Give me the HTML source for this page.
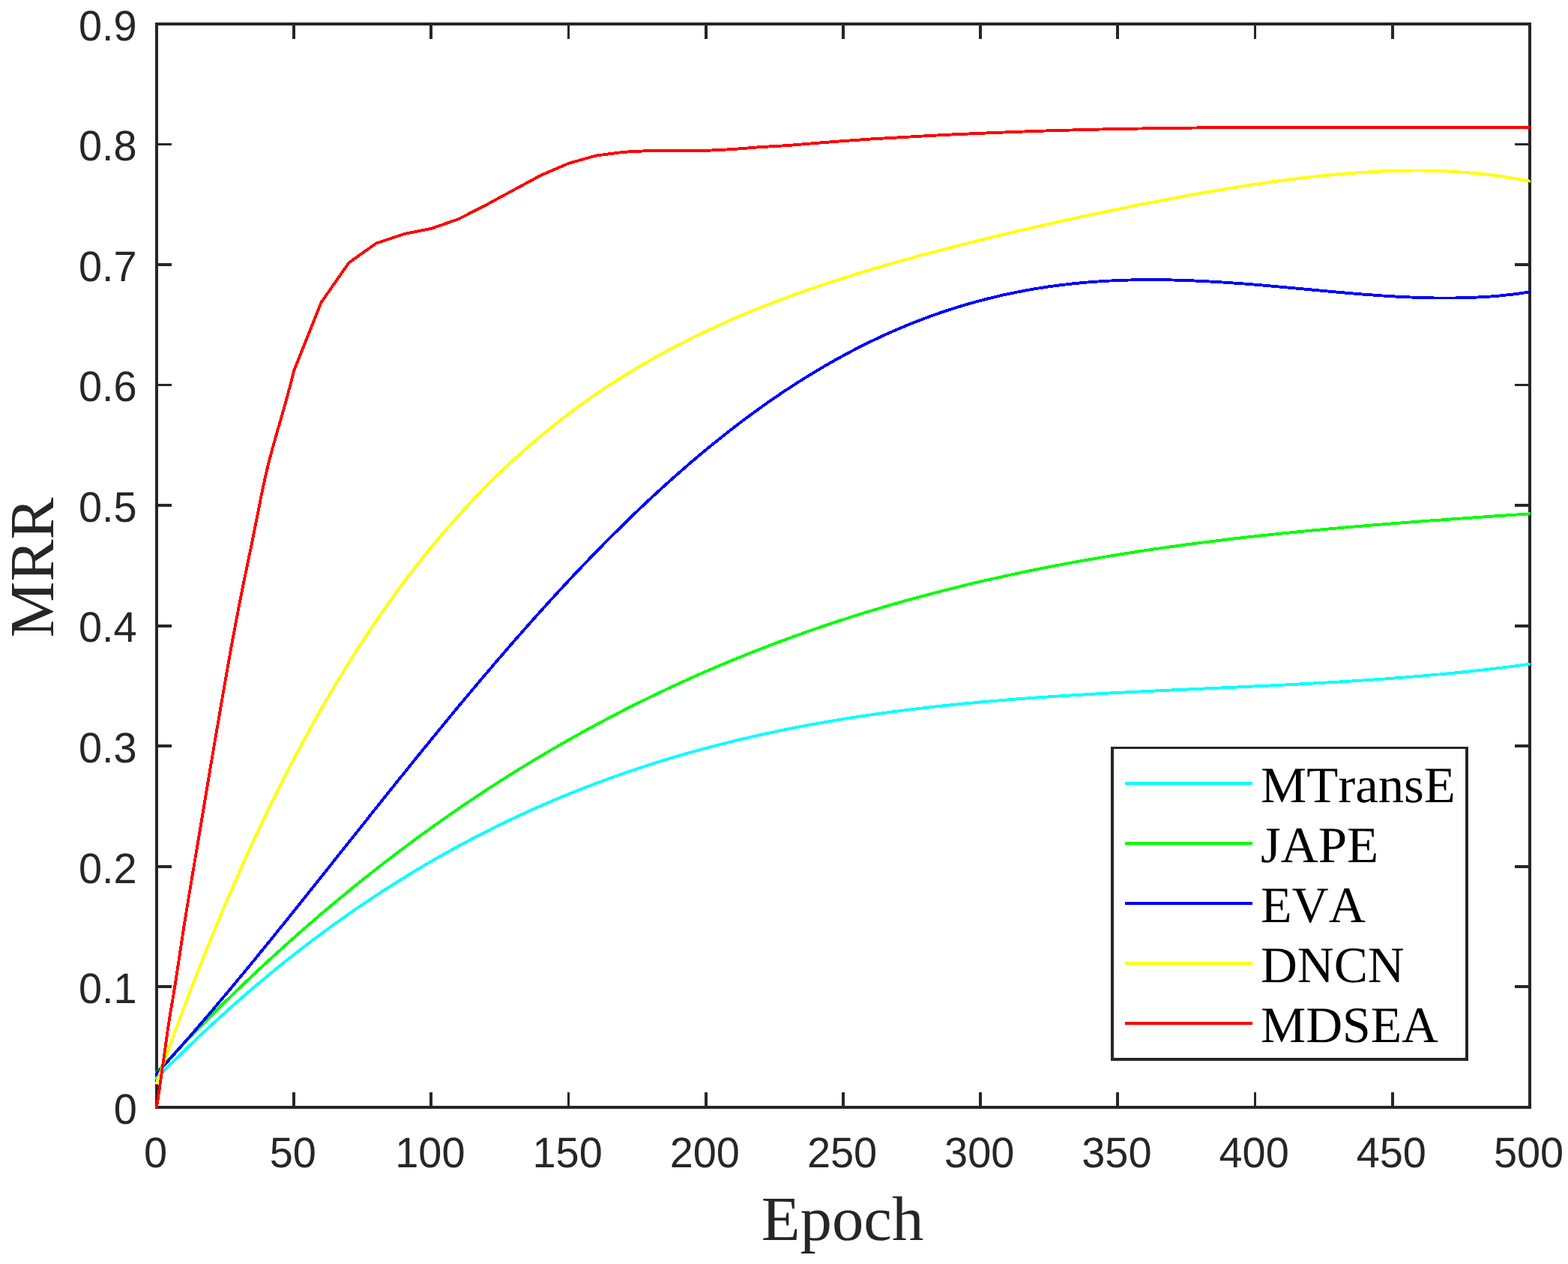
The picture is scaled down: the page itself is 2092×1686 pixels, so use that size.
<!DOCTYPE html>
<html lang="en"><head><meta charset="utf-8"><title>MRR vs Epoch</title>
<style>html,body{margin:0;padding:0;background:#fff}body{width:2092px;height:1686px;overflow:hidden}svg{display:block}
.t{font-family:"Liberation Sans",sans-serif;font-size:57px;fill:#262626}
.l{font-family:"Liberation Serif",serif;font-size:84px;fill:#262626}
.g{font-family:"Liberation Serif",serif;font-size:68px;fill:#000}
text{font-kerning:none;text-rendering:geometricPrecision}
.c{fill:none;stroke-width:3.9;stroke-linejoin:round;stroke-linecap:square}
</style></head><body>
<svg width="2092" height="1686" viewBox="0 0 2092 1686">
<rect x="0" y="0" width="2092" height="1686" fill="#ffffff"/>
<defs><clipPath id="cp"><rect x="207" y="30" width="1835" height="1448"/></clipPath></defs>
<g shape-rendering="crispEdges" fill="#262626">
<rect x="207" y="30" width="1836" height="4"/>
<rect x="207" y="1475" width="1836" height="4"/>
<rect x="207" y="30" width="4" height="1449"/>
<rect x="2039" y="30" width="4" height="1449"/>
<rect x="390" y="1457" width="4" height="18"/>
<rect x="390" y="34" width="4" height="18"/>
<rect x="573" y="1457" width="4" height="18"/>
<rect x="573" y="34" width="4" height="18"/>
<rect x="757" y="1457" width="3" height="18"/>
<rect x="757" y="34" width="3" height="18"/>
<rect x="940" y="1457" width="4" height="18"/>
<rect x="940" y="34" width="4" height="18"/>
<rect x="1123" y="1457" width="4" height="18"/>
<rect x="1123" y="34" width="4" height="18"/>
<rect x="1306" y="1457" width="4" height="18"/>
<rect x="1306" y="34" width="4" height="18"/>
<rect x="1489" y="1457" width="4" height="18"/>
<rect x="1489" y="34" width="4" height="18"/>
<rect x="1673" y="1457" width="3" height="18"/>
<rect x="1673" y="34" width="3" height="18"/>
<rect x="1856" y="1457" width="4" height="18"/>
<rect x="1856" y="34" width="4" height="18"/>
<rect x="211" y="1314" width="18" height="4"/>
<rect x="2021" y="1314" width="18" height="4"/>
<rect x="211" y="1154" width="18" height="4"/>
<rect x="2021" y="1154" width="18" height="4"/>
<rect x="211" y="993" width="18" height="4"/>
<rect x="2021" y="993" width="18" height="4"/>
<rect x="211" y="833" width="18" height="4"/>
<rect x="2021" y="833" width="18" height="4"/>
<rect x="211" y="672" width="18" height="4"/>
<rect x="2021" y="672" width="18" height="4"/>
<rect x="211" y="512" width="18" height="3"/>
<rect x="2021" y="512" width="18" height="3"/>
<rect x="211" y="351" width="18" height="4"/>
<rect x="2021" y="351" width="18" height="4"/>
<rect x="211" y="191" width="18" height="3"/>
<rect x="2021" y="191" width="18" height="3"/>
</g>
<g class="t" text-anchor="end">
<text transform="translate(182.7 1498.6) scale(0.98 1)">0</text>
<text transform="translate(182.7 1338.0) scale(0.98 1)">0.1</text>
<text transform="translate(182.7 1177.5) scale(0.98 1)">0.2</text>
<text transform="translate(182.7 1016.9) scale(0.98 1)">0.3</text>
<text transform="translate(182.7 856.4) scale(0.98 1)">0.4</text>
<text transform="translate(182.7 695.8) scale(0.98 1)">0.5</text>
<text transform="translate(182.7 535.3) scale(0.98 1)">0.6</text>
<text transform="translate(182.7 374.7) scale(0.98 1)">0.7</text>
<text transform="translate(182.7 214.2) scale(0.98 1)">0.8</text>
<text transform="translate(182.7 53.6) scale(0.98 1)">0.9</text>
</g>
<g class="t" text-anchor="middle">
<text transform="translate(207.5 1556.5) scale(0.98 1)">0</text>
<text transform="translate(390.7 1556.5) scale(0.98 1)">50</text>
<text transform="translate(573.9 1556.5) scale(0.98 1)">100</text>
<text transform="translate(757.1 1556.5) scale(0.98 1)">150</text>
<text transform="translate(940.3 1556.5) scale(0.98 1)">200</text>
<text transform="translate(1123.5 1556.5) scale(0.98 1)">250</text>
<text transform="translate(1306.7 1556.5) scale(0.98 1)">300</text>
<text transform="translate(1489.9 1556.5) scale(0.98 1)">350</text>
<text transform="translate(1673.1 1556.5) scale(0.98 1)">400</text>
<text transform="translate(1856.3 1556.5) scale(0.98 1)">450</text>
<text transform="translate(2039.5 1556.5) scale(0.98 1)">500</text>
</g>
<text class="l" text-anchor="middle" transform="translate(1124.0 1654.0) scale(1.009 1)">Epoch</text>
<text class="l" text-anchor="middle" transform="translate(71.0 757.0) rotate(-90)">MRR</text>
<g clip-path="url(#cp)" shape-rendering="crispEdges">
<polyline class="c" stroke="#00ffff" points="209.0,1438.4 216.3,1430.9 223.7,1423.5 231.0,1416.2 238.3,1409.0 245.6,1401.8 253.0,1394.7 260.3,1387.7 267.6,1380.7 275.0,1373.9 282.3,1367.1 289.6,1360.3 296.9,1353.7 304.3,1347.1 311.6,1340.5 318.9,1334.1 326.2,1327.7 333.6,1321.4 340.9,1315.1 348.2,1309.0 355.6,1302.9 362.9,1296.8 370.2,1290.8 377.5,1284.9 384.9,1279.1 392.2,1273.3 399.5,1267.6 406.9,1261.9 414.2,1256.3 421.5,1250.8 428.8,1245.4 436.2,1240.0 443.5,1234.6 450.8,1229.4 458.2,1224.2 465.5,1219.0 472.8,1213.9 480.1,1208.9 487.5,1203.9 494.8,1199.0 502.1,1194.2 509.4,1189.4 516.8,1184.7 524.1,1180.0 531.4,1175.4 538.8,1170.9 546.1,1166.4 553.4,1161.9 560.7,1157.6 568.1,1153.2 575.4,1149.0 582.7,1144.7 590.1,1140.6 597.4,1136.5 604.7,1132.4 612.0,1128.4 619.4,1124.5 626.7,1120.6 634.0,1116.8 641.4,1113.0 648.7,1109.3 656.0,1105.6 663.3,1101.9 670.7,1098.4 678.0,1094.8 685.3,1091.4 692.6,1087.9 700.0,1084.6 707.3,1081.2 714.6,1077.9 722.0,1074.7 729.3,1071.5 736.6,1068.4 743.9,1065.3 751.3,1062.2 758.6,1059.2 765.9,1056.3 773.3,1053.4 780.6,1050.5 787.9,1047.7 795.2,1044.9 802.6,1042.2 809.9,1039.5 817.2,1036.8 824.6,1034.2 831.9,1031.7 839.2,1029.1 846.5,1026.7 853.9,1024.2 861.2,1021.8 868.5,1019.5 875.8,1017.1 883.2,1014.9 890.5,1012.6 897.8,1010.4 905.2,1008.3 912.5,1006.1 919.8,1004.0 927.1,1002.0 934.5,1000.0 941.8,998.0 949.1,996.1 956.5,994.1 963.8,992.3 971.1,990.4 978.4,988.6 985.8,986.9 993.1,985.1 1000.4,983.4 1007.8,981.7 1015.1,980.1 1022.4,978.5 1029.7,976.9 1037.1,975.4 1044.4,973.9 1051.7,972.4 1059.0,970.9 1066.4,969.5 1073.7,968.1 1081.0,966.7 1088.4,965.4 1095.7,964.1 1103.0,962.8 1110.3,961.6 1117.7,960.3 1125.0,959.1 1132.3,957.9 1139.7,956.8 1147.0,955.7 1154.3,954.6 1161.6,953.5 1169.0,952.4 1176.3,951.4 1183.6,950.4 1191.0,949.4 1198.3,948.5 1205.6,947.5 1212.9,946.6 1220.3,945.7 1227.6,944.8 1234.9,944.0 1242.2,943.1 1249.6,942.3 1256.9,941.5 1264.2,940.8 1271.6,940.0 1278.9,939.3 1286.2,938.5 1293.5,937.8 1300.9,937.2 1308.2,936.5 1315.5,935.8 1322.9,935.2 1330.2,934.6 1337.5,934.0 1344.8,933.4 1352.2,932.8 1359.5,932.2 1366.8,931.7 1374.2,931.1 1381.5,930.6 1388.8,930.1 1396.1,929.6 1403.5,929.1 1410.8,928.6 1418.1,928.1 1425.4,927.7 1432.8,927.2 1440.1,926.8 1447.4,926.4 1454.8,925.9 1462.1,925.5 1469.4,925.1 1476.7,924.7 1484.1,924.3 1491.4,923.9 1498.7,923.6 1506.1,923.2 1513.4,922.8 1520.7,922.5 1528.0,922.1 1535.4,921.8 1542.7,921.4 1550.0,921.1 1557.4,920.7 1564.7,920.4 1572.0,920.1 1579.3,919.7 1586.7,919.4 1594.0,919.1 1601.3,918.7 1608.6,918.4 1616.0,918.1 1623.3,917.7 1630.6,917.4 1638.0,917.1 1645.3,916.8 1652.6,916.4 1659.9,916.1 1667.3,915.7 1674.6,915.4 1681.9,915.1 1689.3,914.7 1696.6,914.4 1703.9,914.0 1711.2,913.6 1718.6,913.3 1725.9,912.9 1733.2,912.5 1740.6,912.1 1747.9,911.7 1755.2,911.3 1762.5,910.9 1769.9,910.5 1777.2,910.1 1784.5,909.6 1791.8,909.2 1799.2,908.7 1806.5,908.3 1813.8,907.8 1821.2,907.3 1828.5,906.8 1835.8,906.3 1843.1,905.8 1850.5,905.3 1857.8,904.7 1865.1,904.2 1872.5,903.6 1879.8,903.0 1887.1,902.4 1894.4,901.8 1901.8,901.1 1909.1,900.5 1916.4,899.8 1923.8,899.2 1931.1,898.5 1938.4,897.8 1945.7,897.0 1953.1,896.3 1960.4,895.5 1967.7,894.7 1975.0,893.9 1982.4,893.1 1989.7,892.3 1997.0,891.4 2004.4,890.5 2011.7,889.6 2019.0,888.7 2026.3,887.7 2033.7,886.8 2041.0,885.8"/>
<polyline class="c" stroke="#00ff00" points="209.0,1430.3 216.3,1422.4 223.7,1414.6 231.0,1406.9 238.3,1399.2 245.6,1391.6 253.0,1384.0 260.3,1376.5 267.6,1369.0 275.0,1361.6 282.3,1354.3 289.6,1347.0 296.9,1339.7 304.3,1332.5 311.6,1325.4 318.9,1318.4 326.2,1311.3 333.6,1304.4 340.9,1297.5 348.2,1290.6 355.6,1283.8 362.9,1277.1 370.2,1270.4 377.5,1263.8 384.9,1257.2 392.2,1250.7 399.5,1244.2 406.9,1237.8 414.2,1231.4 421.5,1225.1 428.8,1218.8 436.2,1212.6 443.5,1206.5 450.8,1200.4 458.2,1194.3 465.5,1188.3 472.8,1182.3 480.1,1176.4 487.5,1170.6 494.8,1164.8 502.1,1159.0 509.4,1153.3 516.8,1147.6 524.1,1142.0 531.4,1136.5 538.8,1131.0 546.1,1125.5 553.4,1120.1 560.7,1114.7 568.1,1109.4 575.4,1104.1 582.7,1098.9 590.1,1093.7 597.4,1088.6 604.7,1083.5 612.0,1078.5 619.4,1073.5 626.7,1068.5 634.0,1063.6 641.4,1058.7 648.7,1053.9 656.0,1049.2 663.3,1044.4 670.7,1039.8 678.0,1035.1 685.3,1030.5 692.6,1026.0 700.0,1021.5 707.3,1017.0 714.6,1012.6 722.0,1008.2 729.3,1003.9 736.6,999.6 743.9,995.4 751.3,991.1 758.6,987.0 765.9,982.9 773.3,978.8 780.6,974.7 787.9,970.7 795.2,966.8 802.6,962.8 809.9,959.0 817.2,955.1 824.6,951.3 831.9,947.5 839.2,943.8 846.5,940.1 853.9,936.5 861.2,932.9 868.5,929.3 875.8,925.8 883.2,922.3 890.5,918.8 897.8,915.4 905.2,912.0 912.5,908.7 919.8,905.3 927.1,902.1 934.5,898.8 941.8,895.6 949.1,892.5 956.5,889.3 963.8,886.2 971.1,883.2 978.4,880.1 985.8,877.1 993.1,874.2 1000.4,871.2 1007.8,868.3 1015.1,865.5 1022.4,862.7 1029.7,859.9 1037.1,857.1 1044.4,854.4 1051.7,851.7 1059.0,849.0 1066.4,846.4 1073.7,843.8 1081.0,841.2 1088.4,838.7 1095.7,836.1 1103.0,833.7 1110.3,831.2 1117.7,828.8 1125.0,826.4 1132.3,824.1 1139.7,821.7 1147.0,819.4 1154.3,817.1 1161.6,814.9 1169.0,812.7 1176.3,810.5 1183.6,808.3 1191.0,806.2 1198.3,804.1 1205.6,802.0 1212.9,800.0 1220.3,798.0 1227.6,796.0 1234.9,794.0 1242.2,792.1 1249.6,790.1 1256.9,788.3 1264.2,786.4 1271.6,784.5 1278.9,782.7 1286.2,780.9 1293.5,779.2 1300.9,777.4 1308.2,775.7 1315.5,774.0 1322.9,772.3 1330.2,770.7 1337.5,769.1 1344.8,767.5 1352.2,765.9 1359.5,764.3 1366.8,762.8 1374.2,761.3 1381.5,759.8 1388.8,758.3 1396.1,756.9 1403.5,755.5 1410.8,754.0 1418.1,752.7 1425.4,751.3 1432.8,750.0 1440.1,748.6 1447.4,747.3 1454.8,746.0 1462.1,744.8 1469.4,743.5 1476.7,742.3 1484.1,741.1 1491.4,739.9 1498.7,738.7 1506.1,737.6 1513.4,736.4 1520.7,735.3 1528.0,734.2 1535.4,733.1 1542.7,732.0 1550.0,731.0 1557.4,729.9 1564.7,728.9 1572.0,727.9 1579.3,726.9 1586.7,725.9 1594.0,725.0 1601.3,724.0 1608.6,723.1 1616.0,722.2 1623.3,721.3 1630.6,720.4 1638.0,719.5 1645.3,718.6 1652.6,717.8 1659.9,716.9 1667.3,716.1 1674.6,715.3 1681.9,714.5 1689.3,713.7 1696.6,712.9 1703.9,712.2 1711.2,711.4 1718.6,710.7 1725.9,709.9 1733.2,709.2 1740.6,708.5 1747.9,707.8 1755.2,707.1 1762.5,706.4 1769.9,705.7 1777.2,705.1 1784.5,704.4 1791.8,703.8 1799.2,703.1 1806.5,702.5 1813.8,701.9 1821.2,701.3 1828.5,700.7 1835.8,700.1 1843.1,699.5 1850.5,698.9 1857.8,698.3 1865.1,697.7 1872.5,697.2 1879.8,696.6 1887.1,696.1 1894.4,695.5 1901.8,695.0 1909.1,694.4 1916.4,693.9 1923.8,693.4 1931.1,692.8 1938.4,692.3 1945.7,691.8 1953.1,691.3 1960.4,690.8 1967.7,690.3 1975.0,689.8 1982.4,689.2 1989.7,688.7 1997.0,688.2 2004.4,687.8 2011.7,687.3 2019.0,686.8 2026.3,686.3 2033.7,685.8 2041.0,685.3"/>
<polyline class="c" stroke="#0000ff" points="209.0,1431.8 216.3,1423.9 223.7,1415.8 231.0,1407.6 238.3,1399.4 245.6,1391.2 253.0,1382.8 260.3,1374.4 267.6,1365.9 275.0,1357.4 282.3,1348.8 289.6,1340.2 296.9,1331.5 304.3,1322.8 311.6,1314.0 318.9,1305.2 326.2,1296.3 333.6,1287.4 340.9,1278.5 348.2,1269.5 355.6,1260.5 362.9,1251.5 370.2,1242.5 377.5,1233.4 384.9,1224.3 392.2,1215.2 399.5,1206.0 406.9,1196.9 414.2,1187.7 421.5,1178.5 428.8,1169.3 436.2,1160.1 443.5,1150.9 450.8,1141.7 458.2,1132.5 465.5,1123.3 472.8,1114.1 480.1,1104.9 487.5,1095.7 494.8,1086.5 502.1,1077.3 509.4,1068.2 516.8,1059.0 524.1,1049.9 531.4,1040.7 538.8,1031.6 546.1,1022.6 553.4,1013.5 560.7,1004.4 568.1,995.4 575.4,986.4 582.7,977.5 590.1,968.5 597.4,959.6 604.7,950.8 612.0,941.9 619.4,933.2 626.7,924.4 634.0,915.7 641.4,907.0 648.7,898.3 656.0,889.8 663.3,881.2 670.7,872.7 678.0,864.2 685.3,855.8 692.6,847.5 700.0,839.1 707.3,830.9 714.6,822.7 722.0,814.5 729.3,806.4 736.6,798.4 743.9,790.4 751.3,782.5 758.6,774.6 765.9,766.8 773.3,759.1 780.6,751.4 787.9,743.8 795.2,736.2 802.6,728.7 809.9,721.3 817.2,714.0 824.6,706.7 831.9,699.5 839.2,692.3 846.5,685.2 853.9,678.2 861.2,671.3 868.5,664.4 875.8,657.7 883.2,650.9 890.5,644.3 897.8,637.8 905.2,631.3 912.5,624.9 919.8,618.5 927.1,612.3 934.5,606.1 941.8,600.0 949.1,594.0 956.5,588.1 963.8,582.2 971.1,576.4 978.4,570.8 985.8,565.1 993.1,559.6 1000.4,554.2 1007.8,548.8 1015.1,543.5 1022.4,538.3 1029.7,533.2 1037.1,528.2 1044.4,523.2 1051.7,518.4 1059.0,513.6 1066.4,508.9 1073.7,504.3 1081.0,499.8 1088.4,495.3 1095.7,491.0 1103.0,486.7 1110.3,482.5 1117.7,478.4 1125.0,474.4 1132.3,470.5 1139.7,466.6 1147.0,462.9 1154.3,459.2 1161.6,455.6 1169.0,452.1 1176.3,448.6 1183.6,445.3 1191.0,442.0 1198.3,438.9 1205.6,435.8 1212.9,432.8 1220.3,429.8 1227.6,427.0 1234.9,424.2 1242.2,421.5 1249.6,418.9 1256.9,416.4 1264.2,413.9 1271.6,411.6 1278.9,409.3 1286.2,407.1 1293.5,404.9 1300.9,402.9 1308.2,400.9 1315.5,399.0 1322.9,397.2 1330.2,395.4 1337.5,393.7 1344.8,392.1 1352.2,390.6 1359.5,389.1 1366.8,387.7 1374.2,386.4 1381.5,385.1 1388.8,384.0 1396.1,382.8 1403.5,381.8 1410.8,380.8 1418.1,379.9 1425.4,379.0 1432.8,378.2 1440.1,377.5 1447.4,376.8 1454.8,376.2 1462.1,375.7 1469.4,375.2 1476.7,374.7 1484.1,374.4 1491.4,374.0 1498.7,373.8 1506.1,373.5 1513.4,373.4 1520.7,373.2 1528.0,373.2 1535.4,373.1 1542.7,373.2 1550.0,373.2 1557.4,373.3 1564.7,373.5 1572.0,373.7 1579.3,373.9 1586.7,374.2 1594.0,374.5 1601.3,374.8 1608.6,375.2 1616.0,375.6 1623.3,376.0 1630.6,376.5 1638.0,376.9 1645.3,377.5 1652.6,378.0 1659.9,378.5 1667.3,379.1 1674.6,379.7 1681.9,380.3 1689.3,381.0 1696.6,381.6 1703.9,382.3 1711.2,382.9 1718.6,383.6 1725.9,384.3 1733.2,384.9 1740.6,385.6 1747.9,386.3 1755.2,387.0 1762.5,387.7 1769.9,388.4 1777.2,389.0 1784.5,389.7 1791.8,390.3 1799.2,391.0 1806.5,391.6 1813.8,392.2 1821.2,392.8 1828.5,393.3 1835.8,393.8 1843.1,394.4 1850.5,394.8 1857.8,395.3 1865.1,395.7 1872.5,396.1 1879.8,396.4 1887.1,396.7 1894.4,397.0 1901.8,397.2 1909.1,397.4 1916.4,397.5 1923.8,397.5 1931.1,397.5 1938.4,397.5 1945.7,397.4 1953.1,397.2 1960.4,397.0 1967.7,396.7 1975.0,396.3 1982.4,395.9 1989.7,395.4 1997.0,394.8 2004.4,394.1 2011.7,393.3 2019.0,392.5 2026.3,391.6 2033.7,390.5 2041.0,389.4"/>
<polyline class="c" stroke="#ffff00" points="209.0,1444.5 216.3,1423.7 223.7,1403.1 231.0,1382.9 238.3,1363.1 245.6,1343.5 253.0,1324.2 260.3,1305.3 267.6,1286.6 275.0,1268.2 282.3,1250.2 289.6,1232.4 296.9,1214.9 304.3,1197.7 311.6,1180.8 318.9,1164.1 326.2,1147.7 333.6,1131.6 340.9,1115.8 348.2,1100.2 355.6,1084.9 362.9,1069.8 370.2,1055.0 377.5,1040.4 384.9,1026.1 392.2,1012.0 399.5,998.2 406.9,984.6 414.2,971.2 421.5,958.1 428.8,945.1 436.2,932.4 443.5,920.0 450.8,907.7 458.2,895.7 465.5,883.9 472.8,872.2 480.1,860.8 487.5,849.6 494.8,838.6 502.1,827.8 509.4,817.2 516.8,806.7 524.1,796.5 531.4,786.4 538.8,776.6 546.1,766.9 553.4,757.3 560.7,748.0 568.1,738.8 575.4,729.8 582.7,721.0 590.1,712.3 597.4,703.8 604.7,695.4 612.0,687.2 619.4,679.2 626.7,671.3 634.0,663.5 641.4,655.9 648.7,648.5 656.0,641.2 663.3,634.0 670.7,626.9 678.0,620.0 685.3,613.2 692.6,606.6 700.0,600.1 707.3,593.6 714.6,587.4 722.0,581.2 729.3,575.2 736.6,569.2 743.9,563.4 751.3,557.7 758.6,552.1 765.9,546.6 773.3,541.2 780.6,536.0 787.9,530.8 795.2,525.7 802.6,520.7 809.9,515.8 817.2,511.0 824.6,506.3 831.9,501.7 839.2,497.2 846.5,492.7 853.9,488.4 861.2,484.1 868.5,479.9 875.8,475.8 883.2,471.7 890.5,467.7 897.8,463.8 905.2,460.0 912.5,456.3 919.8,452.6 927.1,448.9 934.5,445.4 941.8,441.9 949.1,438.5 956.5,435.1 963.8,431.8 971.1,428.5 978.4,425.3 985.8,422.2 993.1,419.1 1000.4,416.0 1007.8,413.0 1015.1,410.1 1022.4,407.2 1029.7,404.4 1037.1,401.5 1044.4,398.8 1051.7,396.1 1059.0,393.4 1066.4,390.8 1073.7,388.2 1081.0,385.6 1088.4,383.1 1095.7,380.6 1103.0,378.2 1110.3,375.7 1117.7,373.4 1125.0,371.0 1132.3,368.7 1139.7,366.4 1147.0,364.1 1154.3,361.9 1161.6,359.7 1169.0,357.5 1176.3,355.4 1183.6,353.2 1191.0,351.1 1198.3,349.1 1205.6,347.0 1212.9,345.0 1220.3,342.9 1227.6,340.9 1234.9,339.0 1242.2,337.0 1249.6,335.1 1256.9,333.2 1264.2,331.3 1271.6,329.4 1278.9,327.5 1286.2,325.6 1293.5,323.8 1300.9,322.0 1308.2,320.2 1315.5,318.4 1322.9,316.6 1330.2,314.8 1337.5,313.1 1344.8,311.3 1352.2,309.6 1359.5,307.9 1366.8,306.2 1374.2,304.5 1381.5,302.8 1388.8,301.2 1396.1,299.5 1403.5,297.9 1410.8,296.2 1418.1,294.6 1425.4,293.0 1432.8,291.4 1440.1,289.8 1447.4,288.2 1454.8,286.6 1462.1,285.1 1469.4,283.5 1476.7,282.0 1484.1,280.5 1491.4,279.0 1498.7,277.5 1506.1,276.0 1513.4,274.5 1520.7,273.0 1528.0,271.6 1535.4,270.2 1542.7,268.7 1550.0,267.3 1557.4,265.9 1564.7,264.5 1572.0,263.2 1579.3,261.8 1586.7,260.5 1594.0,259.2 1601.3,257.8 1608.6,256.6 1616.0,255.3 1623.3,254.0 1630.6,252.8 1638.0,251.6 1645.3,250.4 1652.6,249.2 1659.9,248.1 1667.3,246.9 1674.6,245.8 1681.9,244.7 1689.3,243.7 1696.6,242.6 1703.9,241.6 1711.2,240.6 1718.6,239.7 1725.9,238.8 1733.2,237.9 1740.6,237.0 1747.9,236.1 1755.2,235.3 1762.5,234.6 1769.9,233.8 1777.2,233.1 1784.5,232.4 1791.8,231.8 1799.2,231.2 1806.5,230.7 1813.8,230.2 1821.2,229.7 1828.5,229.3 1835.8,228.9 1843.1,228.5 1850.5,228.2 1857.8,228.0 1865.1,227.8 1872.5,227.7 1879.8,227.6 1887.1,227.5 1894.4,227.5 1901.8,227.6 1909.1,227.7 1916.4,227.9 1923.8,228.2 1931.1,228.5 1938.4,228.8 1945.7,229.3 1953.1,229.8 1960.4,230.4 1967.7,231.0 1975.0,231.7 1982.4,232.5 1989.7,233.4 1997.0,234.3 2004.4,235.3 2011.7,236.4 2019.0,237.6 2026.3,238.9 2033.7,240.2 2041.0,241.6"/>
<polyline class="c" stroke="#ff0000" points="209.0,1477.0 212.7,1452.4 216.3,1427.1 220.0,1401.2 223.7,1374.2 227.3,1350.6 231.0,1329.6 234.6,1307.2 238.3,1283.0 242.0,1258.4 245.6,1234.6 249.3,1211.8 253.0,1189.7 256.6,1167.8 260.3,1145.8 264.0,1124.0 267.6,1102.2 271.3,1080.3 275.0,1058.4 278.6,1036.4 282.3,1014.7 285.9,993.2 289.6,971.8 293.3,950.4 296.9,929.1 300.6,907.9 304.3,887.0 307.9,866.6 311.6,846.5 315.3,827.1 318.9,808.2 322.6,789.8 326.2,771.8 329.9,753.9 333.6,736.1 337.2,718.2 340.9,699.8 344.6,681.3 348.2,663.0 351.9,645.5 355.6,629.3 359.2,614.4 362.9,600.5 366.6,587.3 370.2,574.5 373.9,561.9 377.5,549.3 381.2,536.3 384.9,522.9 388.5,508.7 392.2,494.1 428.8,403.0 465.5,350.4 502.1,324.4 538.8,312.2 575.4,304.9 612.0,292.1 648.7,273.3 685.3,253.4 722.0,233.7 758.6,217.9 795.2,207.6 831.9,202.8 868.5,200.9 905.2,200.9 941.8,200.9 978.4,199.0 1015.1,196.1 1051.7,194.0 1088.4,190.9 1125.0,188.1 1161.6,185.5 1198.3,183.4 1234.9,181.3 1271.6,179.4 1308.2,177.8 1344.8,176.3 1381.5,174.9 1418.1,173.8 1454.8,172.8 1491.4,172.0 1528.0,171.4 1564.7,170.9 1601.3,170.4 1638.0,170.2 1674.6,170.1 2041.0,170.1"/>
</g>
<g shape-rendering="crispEdges">
<rect x="1482" y="996" width="477" height="419" fill="#ffffff"/>
<g fill="#262626"><rect x="1482" y="996" width="477" height="3"/><rect x="1482" y="1411" width="477" height="4"/><rect x="1482" y="996" width="4" height="419"/><rect x="1955" y="996" width="4" height="419"/></g>
<rect x="1501" y="1043" width="170" height="4" fill="#00ffff"/>
<rect x="1501" y="1123" width="170" height="4" fill="#00ff00"/>
<rect x="1501" y="1203" width="170" height="4" fill="#0000ff"/>
<rect x="1501" y="1283" width="170" height="4" fill="#ffff00"/>
<rect x="1501" y="1363" width="170" height="4" fill="#ff0000"/>
</g>
<g class="g">
<text transform="translate(1682.0 1070.0) scale(1.012 1)">MTransE</text>
<text transform="translate(1682.0 1150.1) scale(1.014 1)">JAPE</text>
<text transform="translate(1682.0 1230.2) scale(1 1)">EVA</text>
<text transform="translate(1682.0 1310.3) scale(0.994 1)">DNCN</text>
<text transform="translate(1682.0 1390.4) scale(0.995 1)">MDSEA</text>
</g>
</svg></body></html>
